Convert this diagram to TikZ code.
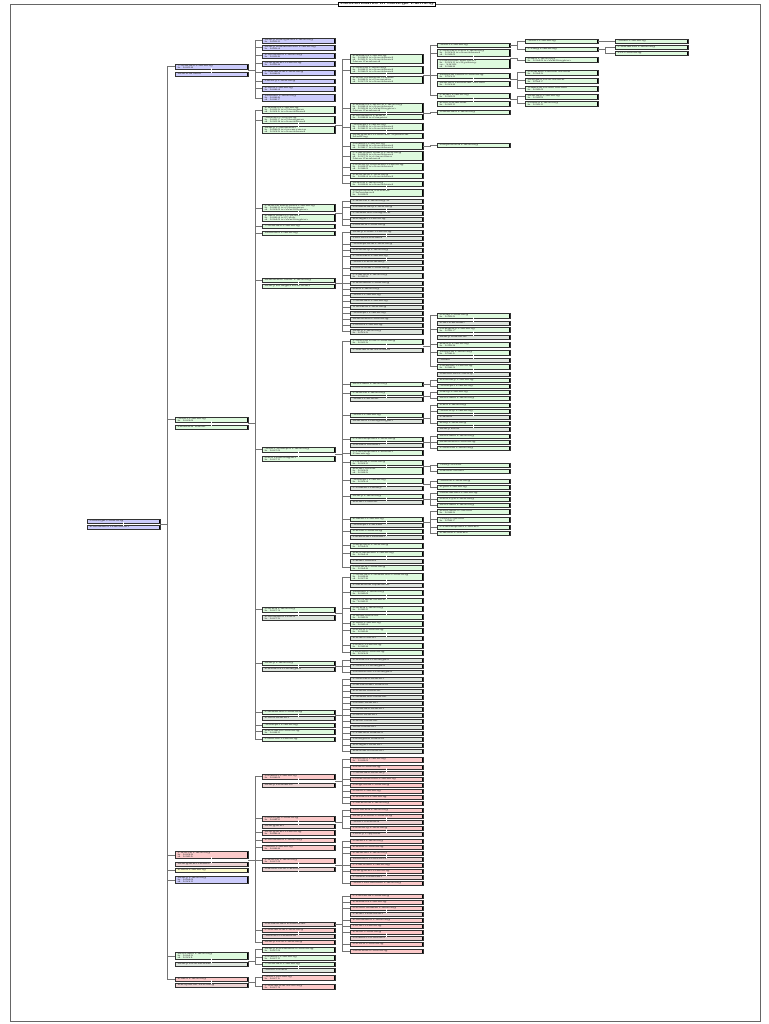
\documentclass[tikz,border=0pt]{standalone}
\usepackage{fontspec}
\newfontfamily\boxfont[FakeStretch=2.4]{Liberation Sans}
\usetikzlibrary{calc}
\definecolor{lav}{RGB}{204,204,252}
\definecolor{grn}{RGB}{222,250,222}
\definecolor{pnk}{RGB}{252,202,202}
\definecolor{ylw}{RGB}{252,252,204}
\definecolor{gry}{RGB}{222,230,222}
\definecolor{pgy}{RGB}{236,212,212}
\definecolor{ink}{RGB}{60,60,60}

% couple: marriage mark, and the point the children hang from
\newcommand{\wed}[2]{%
  \draw[wedline] ([yshift=1pt]#1.south) -- ([yshift=-1pt]#2.north);
  \coordinate (#1m) at ($(#1.south east)!.5!(#2.north east)$);}
% children of one parent point
\newcommand{\kids}[2]{%
  \foreach \kid in {#2} \draw[link] (#1) -- ++(7,0) |- (\kid.west);}

\begin{document}
\begin{tikzpicture}[x=1pt, y=-1pt,
    box/.style={
      draw=black!80,
      line width=0.3pt,
      anchor=north west,
      text width=68pt,
      inner xsep=2.5pt,
      inner ysep=0.7pt,
      minimum height=4pt,
      align=left,
      text=ink,
      font=\boxfont\fontsize{2}{2.1}\selectfont,
      path picture={
        \fill[black] ([xshift=-1.6pt]path picture bounding box.north east) rectangle (path picture bounding box.south east);
        \fill[black] (path picture bounding box.north west) rectangle ([xshift=0.7pt]path picture bounding box.south west);}
    },
    link/.style={draw=black!55, line width=0.35pt},
    wedline/.style={draw=black!85, line width=0.3pt, double=white, double distance=0.5pt},
    titlebox/.style={draw=black, line width=0.4pt, fill=white, inner xsep=2pt, inner ysep=0.8pt,
      font=\boxfont\fontsize{2.7}{3}\selectfont}
  ]
    \useasboundingbox (0,0) rectangle (768,1024);
    \draw[black!60, line width=0.5pt] (10,4) rectangle (760,1021);
    \node[titlebox] (title) at (387,4) {Descendants of George Fleming};

    % generation 1
    \node[box, fill=lav] (george) at (87,519) {George Fleming};
    \node[box, fill=lav] (georges) at (87,525) {Elizabeth Hamilton};

    % generation 2
    \foreach \nm/\yy/\cl/\tx in {
      thomas/64/lav/{Thomas Fleming\\b. 1828},
      thomass/72/lav/{Martha Bell},
      john/417/grn/{John Fleming\\b. 1830},
      johns/425/grn/{Honora Tobin},
      patrick/851/pnk/{Patrick Fleming\\b. 1835\\d. 1901},
      patricks/862/pgy/{Margaret Lewis},
      eliza/868/ylw/{Eliza Fleming},
      mary/876/lav/{Mary Fleming\\b. 1840\\d. 1912},
      michael/952/grn/{Michael Fleming\\b. 1845\\d. 1911},
      michaels/962/gry/{Mary Ann Burke},
      ellen/977/pnk/{Ellen Fleming},
      ellens/983/pgy/{Benjamin Whiting}}
      \node[box, fill=\cl] (\nm) at (175,\yy) {\tx};

    % generation 3
    \foreach \nm/\yy/\cl/\tx in {
      a1/38/lav/{Mary Margaret Fleming\\b. 1852},
      a2/45/lav/{Mary Madeleine Fleming\\b. 1854},
      a3/53/lav/{Elizabeth Fleming\\b. 1856},
      a4/61/lav/{Margaret Fleming\\b. 1858},
      a5/70/lav/{Catherine Fleming\\b. 1860},
      a6/79/lav/{Henry Fleming},
      a7/86/lav/{Eliza Fleming\\b. 1864},
      a8/94/lav/{Walter Fleming\\b. 1866\\d. 1867},
      b1/106/grn/{Edward Fleming\\b. 1855 in Glasgow\\d. 1931 in Auckland},
      b2/116/grn/{James Fleming\\b. 1857 in Glasgow\\d. 1929 in Auckland},
      b2s/126/grn/{Mary Cameron\\b. 1860 in Inverness\\d. 1935 in Auckland},
      b3/204/grn/{Patrick Bernard Fleming\\b. 1862 in Glasgow\\d. 1930 in Wellington},
      b3s/214/grn/{Ellen Mary Lynch\\b. 1864 in Cork\\d. 1940 in Wellington},
      b4/224/grn/{Thomas Fleming},
      b5/231/grn/{William Fleming},
      b6/278/grn/{Matthew 'Mat' Fleming},
      b6s/284/grn/{Mary Bridget Brennan},
      b7/447/grn/{John Joseph Fleming\\b. 1870},
      b7s/456/grn/{Ann Hannagan\\b. 1872},
      b8/607/grn/{Alfred Fleming\\b. 1873},
      b8s/615/gry/{Elizabeth Hunt\\b. 1875},
      b9/661/grn/{Mary Fleming},
      b9s/667/gry/{Edward Lundigan},
      b10/710/grn/{Frederick Fleming},
      b10s/716/gry/{Eliza Martin},
      b11/723/grn/{Joseph Fleming},
      b12/729/grn/{Bernard Fleming\\b. 1882},
      b13/737/grn/{Lavinia Fleming},
      c1/774/pnk/{Robert Fleming\\b. 1860},
      c1s/783/pgy/{Mary Roberts},
      c2/816/pnk/{George Fleming\\b. 1862},
      c2s/824/pgy/{Margaret},
      c3/830/pnk/{Margaret Fleming\\b. 1864},
      c4/838/pnk/{Elizabeth Fleming},
      c5/845/pnk/{Jane Fleming\\b. 1868},
      c6/858/pnk/{Patrick Fleming\\b. 1870},
      c6s/867/pgy/{Sarah Ann Lewis},
      c6t/922/pgy/{Susannah Edwards},
      c7/928/pnk/{Catherine Fleming},
      c7s/934/pgy/{James Roberts},
      c8/940/pnk/{Mary Ann Fleming},
      f1/947/grn/{Mary Elizabeth Fleming\\b. 1870},
      f2/955/grn/{Robert Fleming\\b. 1872},
      f3/962/grn/{Thomas Fleming},
      f3s/968/gry/{Jane Robb},
      g1/975/pnk/{John Whiting\\b. 1871},
      g2/984/pnk/{Catherine Whiting\\b. 1873}}
      \node[box, fill=\cl] (\nm) at (262,\yy) {\tx};

    % generation 4
    \foreach \nm/\yy/\cl/\tx in {
      d1/54/grn/{Edward Fleming\\b. 1880 in Auckland\\d. 1951 in Auckland\\New Zealand},
      d2/66/grn/{Francis Fleming\\b. 1882 in Auckland\\d. 1960 in Auckland},
      d2s/76/grn/{Edith Eleanor Rowe\\b. 1885 in Dunedin\\d. 1970 in Auckland},
      d3/103/grn/{Edward Patrick Fleming\\b. 1884 in Auckland\\d. 1958 in Wellington\\New Zealand},
      d3s/114/grn/{Elizabeth Fears\\b. 1888 in Napier},
      d4/123/grn/{Joseph Fleming\\b. 1886 in Auckland\\d. 1962 in Auckland},
      d4s/133/grn/{Margaret Frances 'Speckie'\\Melling},
      d5/142/grn/{Robert Fleming\\b. 1888 in Auckland\\d. 1967 in Auckland},
      d6/151/grn/{Charlotte Mary Fleming\\b. 1890 in Auckland\\d. 1975 in Hamilton\\New Zealand},
      d7/163/grn/{Dorothy Mildred Fleming\\b. 1892 in Auckland\\d. 1980},
      d8/173/grn/{Kenneth Fleming\\b. 1894 in Auckland},
      d9/181/grn/{Mavis Fleming\\b. 1896 in Auckland},
      d9s/189/grn/{Raymond Vincent\\Cleveland\\b. 1890},
      e1/199/gry/{Patrick Fleming Jr},
      e2/205/gry/{Rosemary Fleming},
      e2s/211/gry/{Frederick Maguire},
      e3/217/gry/{Bridget Fleming},
      e4/223/gry/{Gerard Fleming},
      h1/230/gry/{Mary Kate Fleming},
      h1s/236/gry/{Hal McDonald},
      h2/242/gry/{Josephine Fleming},
      h2b/248/gry/{Anthony Fleming},
      h3/254/gry/{Frances Fleming},
      h3s/260/gry/{John Kenneally},
      h4/266/gry/{Gertrude Fleming},
      h5/273/gry/{Charles Fleming\\b. 1905},
      h6/281/gry/{Kathleen Fleming},
      h7/287/gry/{Ann Fleming},
      h8/293/gry/{John Fleming},
      h9/299/gry/{Thomas Fleming},
      h10/305/gry/{Vincent Fleming},
      h11/311/gry/{Joseph Fleming},
      h12/317/gry/{Matthew Fleming},
      h13/323/gry/{David Fleming},
      h14/329/gry/{Mary Fleming\\b. 1915},
      j1/339/grn/{Francis Earl Fleming\\b. 1925},
      j1s/348/gry/{Catherine Whalen},
      j2/382/grn/{Michael Fleming},
      j3/391/grn/{Patrick Fleming},
      j3s/397/gry/{Joan Fenton},
      j4/413/grn/{John Fleming},
      j4s/419/gry/{Marion Geoghegan},
      j5/437/grn/{Christopher Fleming},
      j5s/443/gry/{Susan Walsh},
      j6/450/grn/{Christopher Fenton\\Fleming},
      j7/460/grn/{Loretta Fleming\\b. 1932},
      j7s/467/grn/{Brian Scott\\b. 1930\\d. 1995},
      j8/478/grn/{Joseph Fleming\\b. 1934},
      j8s/486/gry/{Colleen Healy},
      j9/494/grn/{Mary Fleming},
      j9s/500/gry/{Brian Fallon},
      j10/517/grn/{Eileen Fleming},
      j10s/523/gry/{Joseph Farrell},
      j11/529/grn/{Kevin Fleming},
      j11s/535/gry/{Deborah Walsh},
      j12/543/grn/{Stephen Fleming\\b. 1940},
      j13/551/grn/{Bernadette Fleming\\b. 1944},
      j13s/559/gry/{Peter Ward},
      j14/565/grn/{Gerard Fleming\\b. 1946},
      k1/573/grn/{Thomas Frederick Fleming\\b. 1898\\d. 1976},
      k1s/583/gry/{Florence Spencer},
      k2/590/grn/{Walter Fleming\\b. 1900},
      k2s/598/grn/{Ivy Grace Smith\\b. 1902},
      k3/606/grn/{Alfred Fleming\\b. 1902},
      k3s/614/grn/{Violet Morris\\b. 1905},
      k4/621/grn/{Elsie Fleming\\b. 1904},
      k5/628/grn/{Arthur Fleming\\b. 1906},
      k5s/636/gry/{Ethel Dunn},
      k6/643/grn/{Doris Fleming\\b. 1908},
      k7/650/grn/{Harold Fleming\\b. 1910},
      l1/658/gry/{Edward Lundigan},
      l2/664/gry/{Frank Lundigan},
      l3/670/gry/{Rosanna Lundigan},
      m1/677/gry/{Frances Martin},
      m2/683/gry/{Alexander Martin},
      m3/689/gry/{Ernest Martin},
      m4/695/gry/{Frederick Martin},
      m5/701/gry/{Rose Martin},
      m6/707/gry/{Thomas Martin},
      m7/713/gry/{Alice Martin},
      m8/719/gry/{Edith Martin},
      m9/725/gry/{Ivan Martin},
      m10/731/gry/{Charles Martin},
      m11/737/gry/{Douglas Martin},
      m12/743/gry/{Bridget Martin},
      m13/749/gry/{Barbara Martin},
      n1/757/pnk/{William Fleming\\b. 1890},
      n2/765/pnk/{Ruth Fleming},
      n2s/771/pgy/{Thomas Morley},
      n3/777/pnk/{Gwendoline Fleming},
      n4/783/pnk/{Reginald Fleming},
      n5/789/pnk/{Alice Fleming},
      n6/795/pnk/{Edward Fleming},
      n7/801/pnk/{Florence Fleming},
      o1/808/pnk/{Winifred Fleming},
      o2/814/pnk/{Mary Ellen Fleming},
      o2s/820/pgy/{John Sheard},
      o3/826/pnk/{Dorothy Fleming},
      o3s/832/pgy/{Harry Lippiatt},
      p1/839/pnk/{Albert Fleming},
      p2/845/pnk/{Edwin Fleming},
      p3/851/pnk/{Eleanor Fleming},
      p3s/857/pgy/{William Gilchrist},
      p4/863/pnk/{Charlotte Fleming},
      p5/869/pnk/{Margaret Fleming},
      p5s/875/pgy/{Frank Robson},
      p6/881/pnk/{John Whitelaw Fleming},
      q1/894/pnk/{Christina Fleming},
      q2/900/pnk/{Edward Fleming},
      q3/906/pnk/{Annie Isabel Fleming},
      q3s/912/pgy/{Peter Harrison},
      q4/918/pnk/{Elizabeth Fleming},
      q5/924/pnk/{Lilian Fleming},
      q6/930/pnk/{Edith Fleming},
      q6s/936/pgy/{Robert Graham},
      q7/942/pnk/{Arthur Fleming},
      q8/949/pnk/{Norman Fleming}}
      \node[box, fill=\cl] (\nm) at (350,\yy) {\tx};

    % generation 5
    \foreach \nm/\yy/\cl/\tx in {
      r1/43/grn/{John Fleming},
      r2/49/grn/{Frances Ann Fleming\\b. 1910 in Auckland\\d. 1990},
      r2s/59/grn/{Gabrielle Benson\\b. 1912 in Sydney\\m. 1935\\d. 1988},
      r3/73/grn/{Wayne Allen Fleming\\b. 1915},
      r3s/81/grn/{Marion Heather White\\b. 1918},
      r4/93/grn/{Peter Fleming\\b. 1920},
      r4s/101/grn/{Eve Amende\\b. 1922},
      r5/110/grn/{Siobhan Fleming},
      r6/143/grn/{Raymond Fleming},
      u1/313/grn/{Andy Fleming\\b. 1955},
      u1s/321/gry/{Kim Kendall},
      u2/327/grn/{Gregory Fleming\\b. 1957},
      u2s/335/gry/{Mary Malone},
      u3/342/grn/{Barry Fleming\\b. 1959},
      u4/350/grn/{Wayne Fleming\\b. 1961},
      u4s/358/gry/{Jade},
      u5/364/grn/{Debbie Fleming\\b. 1963},
      u5s/372/gry/{Steve McCarthy},
      v1/378/grn/{Bradley Fleming},
      v2/384/grn/{Joseph Fleming},
      v3/390/grn/{Sally Fleming},
      v4/396/grn/{Michael Fleming},
      w1/403/grn/{Ken Fleming},
      w2/409/grn/{Johnny Fleming},
      w2s/415/gry/{Paula},
      w3/421/grn/{Billy Fleming},
      w3s/427/gry/{Mary Bolt},
      x1/434/grn/{Michael Fleming},
      x2/440/grn/{Matthew Fleming},
      x3/446/grn/{Francis Fleming},
      y1/463/grn/{Tony Scott},
      y2/469/grn/{Sarah Scott},
      y3/479/grn/{Jason Fleming},
      y4/485/grn/{Kyle Fleming},
      y5/491/grn/{Nathaniel Fleming},
      y6/497/grn/{Ann Lyn Fleming},
      y7/503/grn/{Michael Fleming},
      z1/509/grn/{Brendan Farrell\\b. 1985},
      z2/517/grn/{Tony Farrell\\b. 1987},
      z3/525/grn/{Christopher Farrell},
      z4/531/grn/{Kieran Farrell}}
      \node[box, fill=\cl] (\nm) at (437,\yy) {\tx};

    % generations 6 and 7
    \foreach \nm/\yy/\tx in {
      s1/39/{John Fleming},
      s2/47/{Craig Fleming},
      s3/57/{Alan Fleming\\b. 1940 in Wellington},
      s4/70/{Andrew Derek White\\b. 1945},
      s5/78/{Megan Ann White\\b. 1947},
      s6/86/{Valerie Anne White\\b. 1950},
      s7/94/{Mandy Fleming\\b. 1950},
      s8/101/{Gavin Fleming\\b. 1952}}
      \node[box, fill=grn] (\nm) at (525,\yy) {\tx};
    \foreach \nm/\yy/\tx in {
      t1/39/{Jade Fleming},
      t2/45/{Cameron Fleming},
      t3/51/{Liz Fleming}}
      \node[box, fill=grn] (\nm) at (615,\yy) {\tx};

    % marriages
    \foreach \p in {george,thomas,john,patrick,michael,ellen,b2,b3,b6,b7,b8,b9,b10,
      c1,c2,c6,c7,f3,d2,d3,d4,d9,e2,h1,h3,j1,j3,j4,j5,j7,j8,j9,j10,j11,j13,
      k1,k2,k3,k5,n2,o2,o3,p3,p5,q3,q6,r2,r3,r4,u1,u2,u4,u5,w2,w3}
      {\wed{\p}{\p s}}
    \draw[wedline] ([yshift=1pt]c6s.south) -- ([yshift=-1pt]c6t.north);

    % descent lines
    \kids{georgem}{thomas,john,patrick,eliza,mary,michael,ellen}
    \kids{thomasm}{a1,a2,a3,a4,a5,a6,a7,a8}
    \kids{johnm}{b1,b2,b3,b4,b5,b6,b7,b8,b9,b10,b11,b12,b13}
    \kids{patrickm}{c1,c2,c3,c4,c5,c6,c7,c8}
    \kids{michaelm}{f1,f2,f3}
    \kids{ellenm}{g1,g2}
    \kids{b2m}{d1,d2,d3,d4,d5,d6,d7,d8,d9}
    \kids{b3m}{e1,e2,e3,e4}
    \kids{b6m}{h1,h2,h2b,h3,h4,h5,h6,h7,h8,h9,h10,h11,h12,h13,h14}
    \kids{b7m}{j1,j2,j3,j4,j5,j6,j7,j8,j9,j10,j11,j12,j13,j14}
    \kids{b8m}{k1,k2,k3,k4,k5,k6,k7}
    \kids{b9m}{l1,l2,l3}
    \kids{b10m}{m1,m2,m3,m4,m5,m6,m7,m8,m9,m10,m11,m12,m13}
    \kids{c1m}{n1,n2,n3,n4,n5,n6,n7}
    \kids{c2m}{o1,o2,o3}
    \kids{c6m}{p1,p2,p3,p4,p5,p6}
    \kids{c6t.east}{q1,q2,q3,q4,q5,q6,q7,q8}
    \kids{d2m}{r1,r2,r3,r4}
    \kids{d3m}{r5}
    \kids{d5.east}{r6}
    \kids{r1.east}{s1,s2}
    \kids{r2m}{s3}
    \kids{r3m}{s4,s5,s6}
    \kids{r4m}{s7,s8}
    \kids{s1.east}{t1}
    \kids{s2.east}{t2,t3}
    \kids{j1m}{u1,u2,u3,u4,u5}
    \kids{j2.east}{v1,v2}
    \kids{j3m}{v3,v4}
    \kids{j4m}{w1,w2,w3}
    \kids{j5m}{x1,x2,x3}
    \kids{j7m}{y1,y2}
    \kids{j8m}{y3,y4}
    \kids{j9m}{y5,y6,y7}
    \kids{j10m}{z1,z2,z3,z4}
  \end{tikzpicture}
\end{document}
